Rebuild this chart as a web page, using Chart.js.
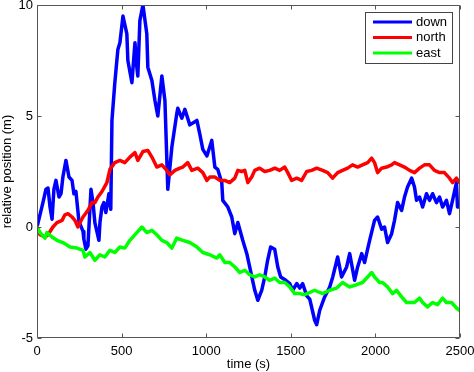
<!DOCTYPE html>
<html>
<head>
<meta charset="utf-8">
<script src="https://cdn.jsdelivr.net/npm/chart.js@4/dist/chart.umd.min.js"></script>
<style>
html,body{margin:0;padding:0;background:#fff;}
#wrap{width:474px;height:372px;}
</style>
</head>
<body>
<div id="wrap"><canvas id="c" width="474" height="372"></canvas></div>
<script>
const seriesLabels = ["down", "north", "east"];
const seriesColors = ["#0000ff", "#ff0000", "#00ff00"];
const xTicks = [0, 500, 1000, 1500, 2000, 2500];
const yTicks = [-5, 0, 5, 10];

const downTime = [0,35,53,65,77,89,100,112,130,142,153,171,189,207,218,230,242,248,272,277,289,301,313,319,331,342,366,372,384,395,407,425,436,443,460,478,490,508,531,537,561,579,590,596,608,626,649,655,679,697,714,738,756,773,797,826,832,856,874,903,945,962,980,1004,1033,1051,1068,1092,1098,1128,1151,1169,1187,1198,1216,1240,1257,1287,1305,1328,1346,1363,1381,1405,1423,1440,1470,1494,1511,1535,1553,1570,1594,1612,1641,1653,1671,1700,1730,1748,1777,1800,1830,1848,1877,1895,1919,1936,1954,1966,1995,2013,2037,2054,2072,2096,2113,2131,2155,2172,2190,2214,2231,2243,2261,2279,2302,2320,2338,2361,2379,2397,2420,2438,2456,2479,2485,2497];
const downVal = [0,1.1,1.7,1.75,0.9,0.35,1.7,2.1,1.35,1.5,2.25,3.0,2.25,2.1,1.5,1.6,0.7,0.25,-0.2,-0.55,-1.0,-0.85,0.85,1.7,1.1,0.2,-0.6,0.2,0.9,1.1,0.65,1.5,0.8,4.8,6.5,8.0,8.3,9.5,8.7,7.5,6.5,8.3,7.2,6.8,9.3,10,8.7,7.2,6.6,5.7,5.0,6.8,5.7,1.7,3.6,5.1,5.35,4.9,5.3,4.6,4.8,4.2,3.5,3.2,3.9,2.7,2.6,2.0,1.2,0.9,0.45,-0.3,0.2,-0.1,-0.6,-1.2,-1.8,-2.85,-3.3,-2.85,-2.25,-1.5,-0.9,-1.0,-1.8,-2.25,-2.4,-2.55,-2.85,-2.55,-2.75,-2.55,-3.1,-3.25,-4.2,-4.4,-3.75,-3.15,-2.7,-2.25,-1.35,-2.25,-1.8,-1.2,-2.4,-1.8,-1.2,-1.6,-1.0,-0.6,0.3,0.45,-0.1,0.0,-0.7,-0.3,0.3,1.1,0.75,1.35,1.8,2.2,1.8,1.2,1.35,0.9,1.5,1.2,1.5,1.1,1.35,0.9,1.2,0.6,1.2,2.0,0.9,0.9];

const northTime = [0,18,47,65,94,118,148,165,183,207,224,242,254,272,301,325,342,360,384,413,431,460,490,519,549,579,596,626,655,679,708,738,767,785,815,844,862,891,915,950,980,1004,1021,1051,1080,1110,1139,1169,1187,1210,1228,1246,1269,1287,1316,1346,1375,1405,1434,1464,1482,1505,1535,1564,1594,1623,1653,1688,1718,1747,1777,1806,1836,1865,1895,1924,1954,1978,1995,2013,2037,2066,2096,2113,2143,2172,2202,2231,2261,2290,2320,2349,2379,2408,2438,2456,2479,2497];
const northVal = [0,-0.35,-0.45,-0.35,0,0.2,0.3,0.55,0.6,0.45,0.3,0,0.2,0.45,0.75,1.1,1.1,1.35,1.6,2.0,2.6,2.9,3.0,2.9,3.15,3.35,3.0,3.4,3.45,3.15,2.7,2.8,2.55,2.35,2.55,2.65,2.7,2.9,2.55,2.65,2.45,2.1,2.25,2.25,2.1,2.1,2.0,2.2,2.55,2.5,2.55,2.0,2.25,2.55,2.65,2.5,2.55,2.65,2.55,2.7,2.45,2.1,2.2,2.1,2.5,2.55,2.65,2.55,2.45,2.2,2.45,2.55,2.65,2.8,2.7,2.8,2.9,3.1,2.9,2.45,2.65,2.7,2.8,2.9,2.8,2.7,2.55,2.45,2.65,2.8,2.8,2.55,2.45,2.45,2.2,2.0,2.2,2.0];

const eastTime = [0,18,47,59,89,118,153,195,236,272,283,313,342,372,401,431,460,490,519,549,590,620,649,679,708,738,767,797,826,862,903,945,980,1021,1063,1080,1110,1139,1169,1198,1228,1257,1287,1316,1346,1375,1405,1434,1464,1494,1523,1553,1582,1612,1641,1671,1688,1730,1771,1806,1848,1889,1924,1954,1978,1995,2025,2042,2072,2102,2125,2155,2184,2202,2231,2261,2279,2308,2338,2367,2397,2420,2450,2479,2497];
const eastVal = [0,-0.25,-0.5,-0.25,-0.45,-0.6,-0.7,-0.9,-0.95,-1.05,-1.35,-1.15,-1.5,-1.25,-1.35,-1.05,-1.15,-0.9,-0.95,-0.6,-0.25,0,-0.25,-0.15,-0.35,-0.6,-0.7,-0.95,-0.5,-0.6,-0.7,-0.9,-1.15,-1.25,-1.4,-1.25,-1.6,-1.6,-1.8,-2.05,-1.95,-2.15,-2.25,-2.15,-2.25,-2.4,-2.3,-2.5,-2.5,-2.7,-3.0,-3.0,-3.05,-2.95,-2.85,-2.95,-3.0,-2.85,-2.75,-2.5,-2.7,-2.6,-2.5,-2.25,-2.05,-2.25,-2.5,-2.5,-2.7,-3.0,-2.85,-3.15,-3.4,-3.4,-3.4,-3.2,-3.4,-3.6,-3.4,-3.5,-3.2,-3.4,-3.4,-3.65,-3.75];

function pts(t, v){ return t.map((x,i)=>({x:x, y:v[i]})); }

const FONT = "Liberation Sans, Arial, Helvetica, sans-serif";

const framePlugin = {
  id: 'frame',
  afterDraw(chart){
    const ctx = chart.ctx, a = chart.chartArea;
    const xs = chart.scales.x, ys = chart.scales.y;
    ctx.save();
    ctx.strokeStyle = '#555';
    ctx.lineWidth = 1;
    const L = Math.round(a.left)+0.5, R = Math.round(a.right)-0.5, T = Math.round(a.top)+0.5, B = Math.round(a.bottom)-0.5;
    ctx.beginPath();
    ctx.rect(L, T, R-L, B-T);
    ctx.stroke();
    ctx.beginPath();
    const tl = 4;
    xTicks.forEach(v=>{
      const px = Math.round(xs.getPixelForValue(v))+0.5;
      ctx.moveTo(px, B); ctx.lineTo(px, B-tl);
      ctx.moveTo(px, T); ctx.lineTo(px, T+tl);
    });
    yTicks.forEach(v=>{
      const py = Math.round(ys.getPixelForValue(v))+0.5;
      ctx.moveTo(L, py); ctx.lineTo(L+tl, py);
      ctx.moveTo(R, py); ctx.lineTo(R-tl, py);
    });
    ctx.stroke();
    // legend
    const bx = 365.5, by = 12.5, bw = 87, bh = 51;
    ctx.fillStyle = '#fff';
    ctx.fillRect(bx, by, bw, bh);
    ctx.strokeStyle = '#444';
    ctx.strokeRect(bx, by, bw, bh);
    ctx.font = '13px ' + FONT;
    ctx.textBaseline = 'middle';
    ctx.textAlign = 'left';
    chart.data.datasets.forEach((ds, i)=>{
      const y = 22 + i*15.5;
      ctx.strokeStyle = ds.borderColor;
      ctx.lineWidth = 3;
      ctx.beginPath();
      ctx.moveTo(373, y); ctx.lineTo(412, y);
      ctx.stroke();
      ctx.fillStyle = '#000';
      ctx.fillText(ds.label, 416, y);
    });
    ctx.restore();
  }
};

new Chart(document.getElementById('c'), {
  type: 'line',
  data: {
    datasets: [
      {label: seriesLabels[0], data: pts(downTime, downVal), borderColor: seriesColors[0], order: 3},
      {label: seriesLabels[1], data: pts(northTime, northVal), borderColor: seriesColors[1], order: 2},
      {label: seriesLabels[2], data: pts(eastTime, eastVal), borderColor: seriesColors[2], order: 1}
    ]
  },
  options: {
    responsive: false,
    animation: false,
    devicePixelRatio: 1,
    layout: {padding: {top: 5, right: 14, left: 0, bottom: 0}},
    elements: {
      line: {borderWidth: 3.5, tension: 0, borderJoinStyle: 'round', borderCapStyle: 'round'},
      point: {radius: 0}
    },
    plugins: {legend: {display: false}, tooltip: {enabled: false}},
    scales: {
      x: {
        type: 'linear', min: 0, max: 2500,
        afterBuildTicks: s => { s.ticks = xTicks.map(v=>({value:v})); },
        afterFit: s => { s.height = 34; s.paddingLeft = 0; s.paddingRight = 0; },
        grid: {display: false, drawTicks: false},
        border: {display: false},
        ticks: {color: '#000', font: {size: 13, family: FONT}, padding: 6, maxRotation: 0, autoSkip: false, callback: v => String(v)},
        title: {display: true, text: 'time (s)', color: '#000', font: {size: 13, family: FONT}, padding: 0}
      },
      y: {
        type: 'linear', min: -5, max: 10,
        afterBuildTicks: s => { s.ticks = yTicks.map(v=>({value:v})); },
        afterFit: s => { s.width = 37; s.paddingTop = 0; s.paddingBottom = 0; },
        grid: {display: false, drawTicks: false},
        border: {display: false},
        ticks: {color: '#000', font: {size: 13, family: FONT}, padding: 4, callback: v => String(v)},
        title: {display: true, text: 'relative position (m)', color: '#000', font: {size: 13, family: FONT}, padding: 0}
      }
    }
  },
  plugins: [framePlugin]
});
</script>
</body>
</html>
